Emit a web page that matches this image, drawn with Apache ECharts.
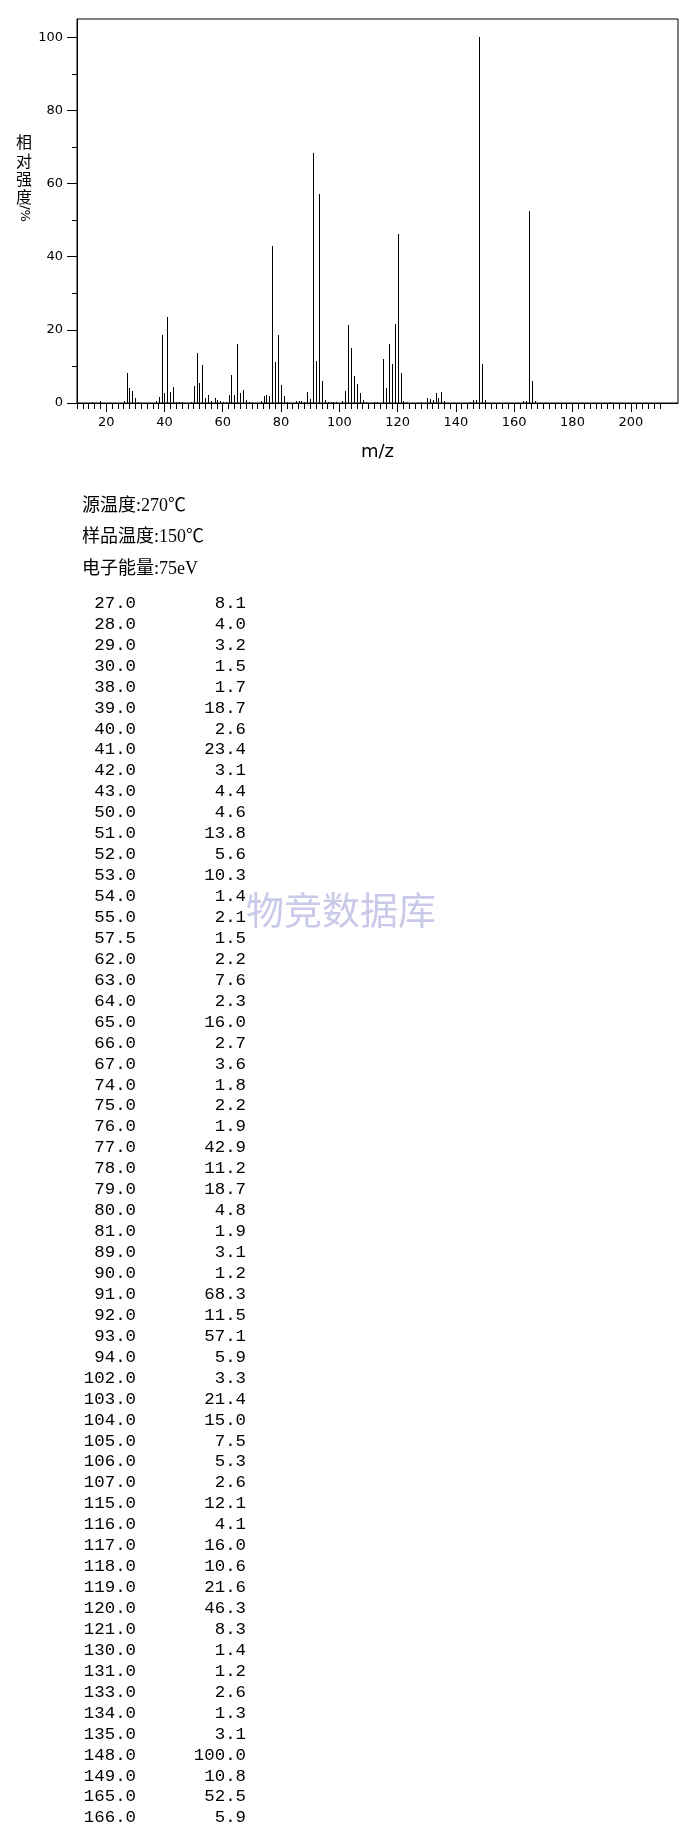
<!DOCTYPE html>
<html>
<head>
<meta charset="utf-8">
<script src="https://cdn.jsdelivr.net/npm/echarts@6/dist/echarts.min.js"></script>
<style>
html,body{margin:0;padding:0;background:#fff;}
#c{width:687px;height:1824px;}
</style>
</head>
<body>
<div id="c"></div>
<script>
// Listed peaks (table)
const tableMz = [27.0,28.0,29.0,30.0,38.0,39.0,40.0,41.0,42.0,43.0,50.0,51.0,52.0,53.0,54.0,55.0,57.5,62.0,63.0,64.0,65.0,66.0,67.0,74.0,75.0,76.0,77.0,78.0,79.0,80.0,81.0,89.0,90.0,91.0,92.0,93.0,94.0,102.0,103.0,104.0,105.0,106.0,107.0,115.0,116.0,117.0,118.0,119.0,120.0,121.0,130.0,131.0,133.0,134.0,135.0,148.0,149.0,165.0,166.0];
const tableIntensity = [8.1,4.0,3.2,1.5,1.7,18.7,2.6,23.4,3.1,4.4,4.6,13.8,5.6,10.3,1.4,2.1,1.5,2.2,7.6,2.3,16.0,2.7,3.6,1.8,2.2,1.9,42.9,11.2,18.7,4.8,1.9,3.1,1.2,68.3,11.5,57.1,5.9,3.3,21.4,15.0,7.5,5.3,2.6,12.1,4.1,16.0,10.6,21.6,46.3,8.3,1.4,1.2,2.6,1.3,3.1,100.0,10.8,52.5,5.9];
// Small peaks seen only in the spectrum (estimated)
const minorMz = [15,18,26,31,37,44,45,46,49,56,58,59,60,61,68,69,70,73,82,85,86,87,88,95,96,97,98,99,101,108,109,112,113,122,123,128,132,136,145,146,147,150,163,164,167,193];
const minorIntensity = [0.3,0.5,0.6,0.3,0.5,0.4,0.4,0.4,0.4,0.5,0.8,0.5,0.4,0.4,0.7,0.4,0.4,0.5,0.4,0.6,0.6,0.6,0.4,0.8,0.4,0.4,0.4,0.4,0.5,0.8,0.4,0.4,0.4,0.5,0.4,0.4,0.9,0.6,0.4,0.9,0.9,0.9,0.5,0.5,0.6,0.4];
const xTickLabels = [20,40,60,80,100,120,140,160,180,200];
const yTickLabels = [0,20,40,60,80,100];
const yMinorTicks = [10,30,50,70,90];
const infoLines = ['源温度:270℃','样品温度:150℃','电子能量:75eV'];
const yName = ['相','对','强','度'];
const yNameTail = '/%';
const xName = 'm/z';
const watermark = '物竞数据库';

const xMinorTicks = [];
for (let v = 10; v <= 210; v += 2) { if (v % 20 !== 0) xMinorTicks.push(v); }

const peaks = tableMz.map((m, i) => [m, tableIntensity[i]])
  .concat(minorMz.map((m, i) => [m, minorIntensity[i]]));

const X_MIN = 10, X_MAX = 216.2, Y_MIN = 0, Y_MAX = 105;
const axisFont = 'DejaVu Sans';

const graphics = [];
// Y axis name (stacked CJK + rotated tail)
graphics.push({
  type: 'text', x: 24, y: 133, z: 10,
  style: { text: yName.join('\n'), fill: '#000', font: '16px "Noto Sans CJK SC"', lineHeight: 18.3, align: 'center', verticalAlign: 'top' }
});
graphics.push({
  type: 'text', x: 24, y: 213.5, rotation: -Math.PI / 2, z: 10,
  style: { text: yNameTail, fill: '#000', font: '13px "DejaVu Sans"', align: 'center', verticalAlign: 'middle' }
});
// Info lines
infoLines.forEach((t, i) => {
  graphics.push({
    type: 'text', x: 82, y: 506 + i * 31.7, z: 10,
    style: { text: t, fill: '#000', font: '18px "Liberation Serif", "Noto Sans CJK SC"', align: 'left', verticalAlign: 'middle' }
  });
});
// Watermark
graphics.push({
  type: 'text', x: 246, y: 910, z: 1,
  style: { text: watermark, fill: '#c9c9ea', font: '38px "Noto Sans CJK SC"', align: 'left', verticalAlign: 'middle' }
});
// Table
tableMz.forEach((m, i) => {
  const y = 603.3 + i * 20.94;
  graphics.push({
    type: 'text', x: 136, y: y, z: 10,
    style: { text: m.toFixed(1), fill: '#000', font: '17.4px "Liberation Mono"', align: 'right', verticalAlign: 'middle' }
  });
  graphics.push({
    type: 'text', x: 246, y: y, z: 10,
    style: { text: tableIntensity[i].toFixed(1), fill: '#000', font: '17.4px "Liberation Mono"', align: 'right', verticalAlign: 'middle' }
  });
});

const chart = echarts.init(document.getElementById('c'), null, { renderer: 'canvas' });
const option = {
  animation: false,
  backgroundColor: '#fff',
  grid: { left: 77, top: 19, width: 601, height: 384, show: true, borderColor: '#000', borderWidth: 1, backgroundColor: '#fff', containLabel: false },
  xAxis: [
    {
      type: 'value', min: X_MIN, max: X_MAX, position: 'bottom',
      axisLine: { show: true, lineStyle: { color: '#000', width: 1 } },
      axisTick: { show: true, customValues: xTickLabels, length: 9, lineStyle: { color: '#000', width: 1 } },
      axisLabel: { show: true, customValues: xTickLabels, color: '#000', fontSize: 13, fontFamily: axisFont, margin: 13 },
      splitLine: { show: false },
      name: xName, nameLocation: 'middle', nameGap: 40,
      nameTextStyle: { color: '#000', fontSize: 18, fontFamily: axisFont }
    },
    {
      type: 'value', min: X_MIN, max: X_MAX, position: 'bottom',
      axisLine: { show: false },
      axisTick: { show: true, customValues: xMinorTicks, length: 6, lineStyle: { color: '#000', width: 1 } },
      axisLabel: { show: false },
      splitLine: { show: false }
    }
  ],
  yAxis: [
    {
      type: 'value', min: Y_MIN, max: Y_MAX, position: 'left',
      axisLine: { show: true, lineStyle: { color: '#000', width: 1 } },
      axisTick: { show: true, customValues: yTickLabels, length: 10, lineStyle: { color: '#000', width: 1 } },
      axisLabel: { show: true, customValues: yTickLabels, color: '#000', fontSize: 13, fontFamily: axisFont, margin: 14 },
      splitLine: { show: false }
    },
    {
      type: 'value', min: Y_MIN, max: Y_MAX, position: 'left',
      axisLine: { show: false },
      axisTick: { show: true, customValues: yMinorTicks, length: 5, lineStyle: { color: '#000', width: 1 } },
      axisLabel: { show: false },
      splitLine: { show: false }
    }
  ],
  series: [{
    type: 'custom',
    xAxisIndex: 0, yAxisIndex: 0,
    data: peaks,
    renderItem: function (params, api) {
      const base = api.coord([api.value(0), 0]);
      const top = api.coord([api.value(0), api.value(1)]);
      const x = Math.round(base[0]) + 0.5;
      return {
        type: 'line',
        shape: { x1: x, y1: Math.round(base[1]), x2: x, y2: Math.round(top[1]) },
        style: { stroke: '#000', lineWidth: 1 }
      };
    }
  }],
  graphic: graphics
};
chart.setOption(option);
</script>
</body>
</html>
